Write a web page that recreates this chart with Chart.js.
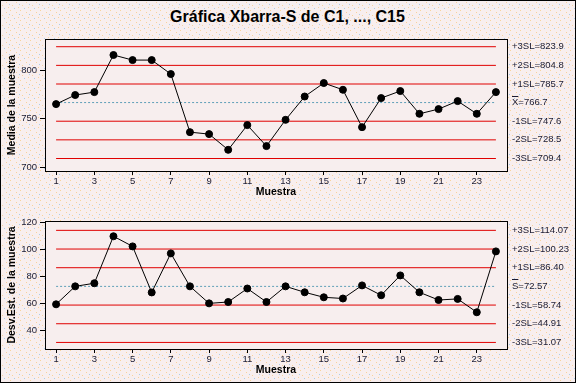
<!DOCTYPE html>
<html>
<head>
<meta charset="utf-8">
<script src="https://cdn.jsdelivr.net/npm/chart.js@4"></script>
<style>
  html, body { margin: 0; padding: 0; }
  #frame {
    position: relative;
    width: 576px;
    height: 383px;
    overflow: hidden;
    background-color: #f8eeee;
    box-shadow: inset 0 0 0 1px #000;
  }
  #title {
    position: absolute;
    left: 0;
    top: 8px;
    width: 575px;
    text-align: center;
    font: bold 16px "Liberation Sans", Arial, sans-serif;
    color: #000;
  }
  canvas { position: absolute; left: 0; }
  #xbarChart { top: 0; }
  #sChart { top: 200px; }
</style>
</head>
<body>
<div id="frame">
  <div id="title">Gráfica Xbarra-S de C1, ..., C15</div>
  <canvas id="xbarChart" width="576" height="200"></canvas>
  <canvas id="sChart" width="576" height="183"></canvas>
</div>
<script>
const muestras = [1, 2, 3, 4, 5, 6, 7, 8, 9, 10, 11, 12, 13, 14, 15, 16, 17, 18, 19, 20, 21, 22, 23, 24];
const ticksMuestra = [1, 3, 5, 7, 9, 11, 13, 15, 17, 19, 21, 23];

const mediaMuestra = [765.1, 774.4, 777.4, 815.4, 810.2, 810.2, 795.9, 736.4, 734.4, 718.3, 743.6, 722.1,
  749.0, 772.9, 786.7, 779.8, 741.5, 771.3, 778.5, 755.2, 760.0, 768.2, 755.2, 777.4];
const desvEstMuestra = [59.3, 72.6, 74.9, 109.7, 102.2, 68.1, 97.0, 72.6, 60.0, 61.0, 71.0, 61.0,
  72.6, 68.2, 64.5, 63.6, 73.3, 66.0, 80.7, 68.2, 62.5, 63.3, 53.4, 98.5];

const limitesMedia = [823.9, 804.8, 785.7, 766.7, 747.6, 728.5, 709.4];
const etiquetasMedia = ["+3SL=823.9", "+2SL=804.8", "+1SL=785.7", "X=766.7", "-1SL=747.6", "-2SL=728.5", "-3SL=709.4"];
const limitesDesv = [114.07, 100.23, 86.40, 72.57, 58.74, 44.91, 31.07];
const etiquetasDesv = ["+3SL=114.07", "+2SL=100.23", "+1SL=86.40", "S=72.57", "-1SL=58.74", "-2SL=44.91", "-3SL=31.07"];
const indiceCentro = 3;

const ticksMedia = [700, 750, 800];
const ticksDesv = [40, 60, 80, 100, 120];

const COLORS = {
  text: "#1a1a30",
  plot: "#f7eeee",
  limit: "#e00000",
  center: "#5f9fb8",
};
const FONT = '"Liberation Sans", Arial, sans-serif';

// dotted paper background like the original
(function paintBackground() {
  const tile = document.createElement("canvas");
  tile.width = 10;
  tile.height = 10;
  const c = tile.getContext("2d");
  c.fillStyle = "#f8eeee";
  c.fillRect(0, 0, 10, 10);
  const orange = [[0, 0], [6, 2], [2, 5], [8, 7]];
  const blue = [[4, 8], [9, 4]];
  c.fillStyle = "#f7d39a";
  orange.forEach(([x, y]) => c.fillRect(x, y, 1, 1));
  c.fillStyle = "#a3cdee";
  blue.forEach(([x, y]) => c.fillRect(x, y, 1, 1));
  document.getElementById("frame").style.backgroundImage = `url(${tile.toDataURL()})`;
})();

const plotBox = {
  id: "plotBox",
  beforeDraw(chart) {
    const { ctx, chartArea: a } = chart;
    ctx.save();
    ctx.fillStyle = COLORS.plot;
    ctx.fillRect(a.left, a.top, a.right - a.left, a.bottom - a.top);
    ctx.restore();
  },
  afterDraw(chart) {
    const { ctx, chartArea: a } = chart;
    ctx.save();
    ctx.strokeStyle = "#000";
    ctx.lineWidth = 1;
    ctx.strokeRect(Math.round(a.left) + 0.5, Math.round(a.top) + 0.5,
      Math.round(a.right - a.left), Math.round(a.bottom - a.top));
    ctx.restore();
  },
};

const sideLabels = {
  id: "sideLabels",
  afterDraw(chart, args, opts) {
    const { ctx, chartArea: a, scales } = chart;
    ctx.save();
    ctx.font = `9.5px ${FONT}`;
    ctx.fillStyle = COLORS.text;
    ctx.textBaseline = "middle";
    opts.values.forEach((v, i) => {
      const y = scales.y.getPixelForValue(v);
      const x = a.right + 5;
      ctx.fillText(opts.labels[i], x, y);
      if (i === indiceCentro) {
        const w = ctx.measureText(opts.labels[i][0]).width;
        ctx.fillRect(x, Math.round(y) - 7, w, 1);
      }
    });
    // axis titles
    ctx.font = `bold 10.5px ${FONT}`;
    ctx.fillStyle = "#000";
    ctx.textAlign = "center";
    ctx.fillText(opts.xTitle, (a.left + a.right) / 2, a.bottom + 21);
    ctx.translate(12, (a.top + a.bottom) / 2);
    ctx.rotate(-Math.PI / 2);
    ctx.fillText(opts.yTitle, 0, 0);
    ctx.restore();
  },
};

function limitDatasets(values) {
  return values.map((v, i) => ({
    data: [{ x: muestras[0], y: v }, { x: muestras[muestras.length - 1], y: v }],
    borderColor: i === indiceCentro ? COLORS.center : COLORS.limit,
    borderDash: i === indiceCentro ? [2, 2] : [],
    borderWidth: 1,
    pointRadius: 0,
  }));
}

function makeChart(canvas, series, limits, labels, yTicks, yMin, yMax, yTitle, padTop, xHeight) {
  return new Chart(canvas, {
    type: "line",
    data: {
      datasets: [
        {
          data: muestras.map((m, i) => ({ x: m, y: series[i] })),
          borderColor: "#000",
          borderWidth: 1,
          pointRadius: 3.5,
          pointBackgroundColor: "#000",
          pointBorderColor: "#000",
          tension: 0,
        },
        ...limitDatasets(limits),
      ],
    },
    options: {
      responsive: false,
      animation: false,
      events: [],
      layout: { padding: { top: padTop, right: 69, left: 0, bottom: 0 } },
      plugins: {
        legend: { display: false },
        tooltip: { enabled: false },
        sideLabels: { values: limits, labels: labels, xTitle: "Muestra", yTitle: yTitle },
      },
      scales: {
        x: {
          type: "linear",
          min: 0.42,
          max: 24.58,
          afterBuildTicks: (s) => { s.ticks = ticksMuestra.map((v) => ({ value: v })); },
          afterFit: (s) => { s.height = xHeight; },
          ticks: { color: COLORS.text, font: { family: FONT, size: 9.5 }, padding: 1, maxRotation: 0 },
          grid: { drawOnChartArea: false, color: "#000", tickLength: 4 },
          border: { color: "#000" },
        },
        y: {
          min: yMin,
          max: yMax,
          afterBuildTicks: (s) => { s.ticks = yTicks.map((v) => ({ value: v })); },
          afterFit: (s) => { s.width = 45; },
          ticks: { color: COLORS.text, font: { family: FONT, size: 9.5 }, padding: 3 },
          grid: { drawOnChartArea: false, color: "#000", tickLength: 5 },
          border: { color: "#000" },
        },
      },
    },
    plugins: [plotBox, sideLabels],
  });
}

makeChart(document.getElementById("xbarChart"), mediaMuestra, limitesMedia, etiquetasMedia,
  ticksMedia, 696.6, 831.8, "Media de la muestra", 39, 29);
makeChart(document.getElementById("sChart"), desvEstMuestra, limitesDesv, etiquetasDesv,
  ticksDesv, 26.2, 121, "Desv.Est. de la muestra", 21, 34);
</script>
</body>
</html>
